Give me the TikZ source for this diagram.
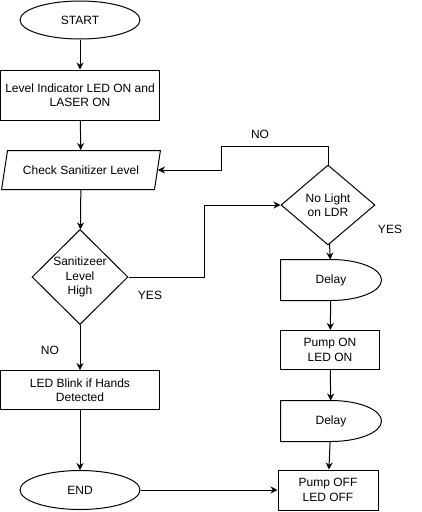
\documentclass[tikz,border=0pt]{standalone}
\usepackage{fontspec}
\setmainfont{Liberation Sans}
\usetikzlibrary{shapes.geometric,arrows.meta,calc}

\begin{document}
\begin{tikzpicture}[x=1pt, y=-1pt, line width=1pt, font=\fontsize{12}{14.5}\selectfont,
  arrow/.style={-{Stealth[length=7pt,width=7pt]}},
  terminal/.style={draw, ellipse, minimum width=120pt, minimum height=38pt, inner sep=0pt},
  process/.style={draw, rectangle, align=center, inner sep=0pt},
  inout/.style={draw, trapezium, trapezium left angle=62, trapezium right angle=118,
    trapezium stretches=true, minimum width=159pt, minimum height=39pt, inner sep=0pt},
  decision/.style={draw, diamond, align=center, inner sep=0pt},
  delaybox/.style={minimum width=100pt, minimum height=40pt, inner sep=0pt}]

  \useasboundingbox (0,0) rectangle (421,512);

  % Left column
  \draw (80,20) node[terminal] (start) {START};
  \draw (80,95) node[process, minimum width=159pt, minimum height=50pt] (leds) {Level Indicator LED ON and\\LASER ON};
  \draw (81,170) node[inout] (check) {Check Sanitizer Level};
  \draw (80,277) node[decision, minimum width=96pt, minimum height=95pt] (level) {Sanitizeer\\Level\\High};
  \draw (80,390) node[process, minimum width=159pt, minimum height=39pt] (blink) {LED Blink if Hands\\Detected};
  \draw (80,490) node[terminal, minimum height=39pt] (stop) {END};

  % Right column
  \draw (328,205) node[decision, minimum width=94pt, minimum height=80pt] (ldr) {No Light\\on LDR};
  \draw (331,280) node[delaybox] (delayA) {Delay};
  \draw (330,350) node[process, minimum width=99pt, minimum height=39pt] (pumpon) {Pump ON\\LED ON};
  \draw (331,421) node[delaybox] (delayB) {Delay};
  \draw (328,490) node[process, minimum width=100pt, minimum height=40pt] (pumpoff) {Pump OFF\\LED OFF};

  % Delay outlines
  \foreach \d in {delayA,delayB}
    \draw (\d.north west) -- (\d.north)
      .. controls ($(\d.north)!0.552!(\d.north east)$) and ($(\d.east)!0.552!(\d.north east)$) .. (\d.east)
      .. controls ($(\d.east)!0.552!(\d.south east)$) and ($(\d.south)!0.552!(\d.south east)$) .. (\d.south)
      -- (\d.south west) -- cycle;

  % Flow
  \draw[arrow] (start) -- (leds);
  \draw[arrow] (leds) -- (check);
  \draw[arrow] (check) -- (level);
  \draw[arrow] (level) -- (blink);
  \draw[arrow] (blink) -- (stop);
  \draw[arrow] (level.east) -| ($(level.east)!0.5!(ldr.west)$) |- (ldr.west);
  \coordinate (noturn) at (221,146);
  \draw[arrow] (ldr.north) |- (noturn) |- (check.east);
  \draw[arrow] (ldr) -- (delayA);
  \draw[arrow] (delayA) -- (pumpon);
  \draw[arrow] (pumpon) -- (delayB);
  \draw[arrow] (delayB) -- (pumpoff);
  \draw[arrow] (stop) -- (pumpoff);

  % Labels
  \draw (260,134) node (noldr) {NO};
  \draw (390,229) node (yesldr) {YES};
  \draw (150,295) node (yeslevel) {YES};
  \draw (50,350) node (nolevel) {NO};

\end{tikzpicture}
\end{document}
